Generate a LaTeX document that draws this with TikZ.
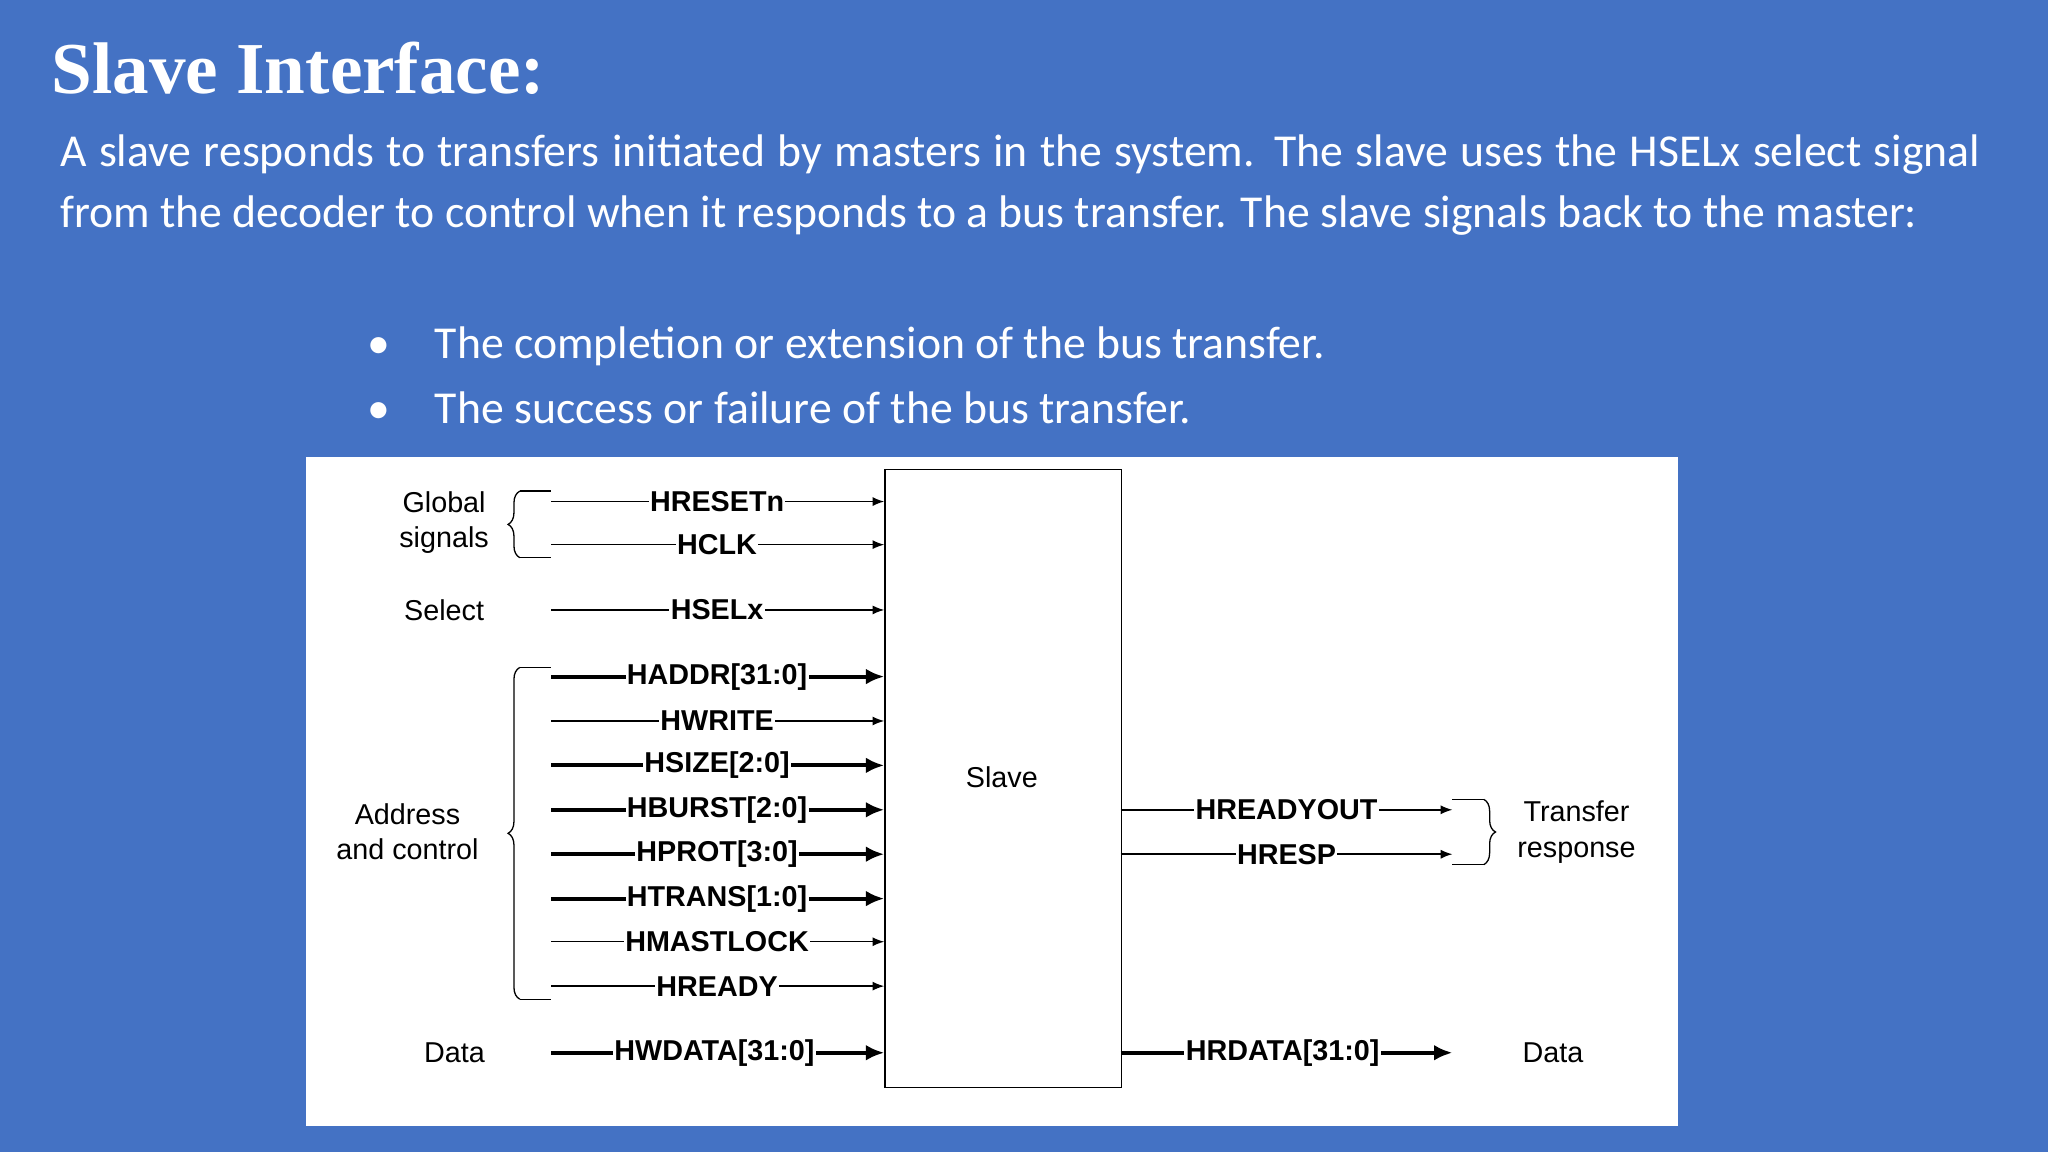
\documentclass[tikz,border=0pt]{standalone}
\usepackage{fontspec}
\setmainfont{Carlito}
\newfontfamily\titlefont{Liberation Serif}
\newfontfamily\diag{Liberation Sans}
\usetikzlibrary{arrows.meta,decorations.pathreplacing}
\definecolor{bg}{HTML}{4472C4}
\tikzset{
 thin sig/.style={line width=1.1pt,-{Latex[length=9pt,width=7pt]}},
 thick sig/.style={line width=3pt,-{Latex[length=14pt,width=12pt]}},
 sig lbl/.style={fill=white,inner sep=1pt,font=\diag\bfseries\fontsize{22}{24}\selectfont},
 side lbl/.style={font=\diag\fontsize{22}{27}\selectfont,align=center},
 brc/.style={decorate,decoration={brace,amplitude=9pt},line width=1pt}
}
\begin{document}
\begin{tikzpicture}[x=1pt,y=-1pt]
\fill[bg] (0,0) rectangle (1568,882);
\useasboundingbox (0,0) rectangle (1568,882);
\node[anchor=west,text=white,font=\titlefont\bfseries\fontsize{56}{60}\selectfont] (title) at (36,52) {Slave Interface:};
\node[anchor=north west,text=white,text width=1470pt,align=justify,inner sep=0pt,font=\fontsize{35}{47}\selectfont] (body) at (46,103) {A slave responds to transfers initiated by masters in the system. The slave uses the HSELx select signal from the decoder to control when it responds to a bus transfer. The slave signals back to the master:};
\node[anchor=west,text=white,font=\fontsize{35}{40}\selectfont] (b1) at (278,265) {\textbullet\hspace{34pt}The completion or extension of the bus transfer.};
\node[anchor=west,text=white,font=\fontsize{35}{40}\selectfont] (b2) at (278,312) {\textbullet\hspace{34pt}The success or failure of the bus transfer.};
\fill[white] (234,350) rectangle (1285,862);
\node[draw,line width=1.2pt,minimum width=181pt,minimum height=473pt,anchor=north west,font=\diag\fontsize{22}{24}\selectfont] (slave) at (677,359) {};
\node[font=\diag\fontsize{22}{24}\selectfont] (slavelbl) at (767,595) {Slave};
% left signals
\foreach \y/\t/\s/\lx in {384/HRESETn/thin sig/549,417/HCLK/thin sig/549,467/HSELx/thin sig/549,518/HADDR[31:0]/thick sig/549,552/HWRITE/thin sig/549,586/HSIZE[2:0]/thick sig/549,620/HBURST[2:0]/thick sig/549,654/HPROT[3:0]/thick sig/549,688/HTRANS[1:0]/thick sig/549,721/HMASTLOCK/thin sig/549,755/HREADY/thin sig/549,806/HWDATA[31:0]/thick sig/547}{
 \coordinate (s\y) at (422,\y);
 \coordinate (e\y) at (677,\y);
 \draw[\s] (s\y) -- (e\y);
 \node[sig lbl] (l\y) at (\lx,\y) {\t};
}
% right signals
\foreach \y/\t/\s/\lx in {620/HREADYOUT/thin sig/985,654/HRESP/thin sig/985,806/HRDATA[31:0]/thick sig/982}{
 \coordinate (rs\y) at (858,\y);
 \coordinate (re\y) at (1112,\y);
 \draw[\s] (rs\y) -- (re\y);
 \node[sig lbl] (r\y) at (\lx,\y) {\t};
}
\node[side lbl] (glob) at (340,400) {Global\\signals};
\node[side lbl] (sel) at (340,467) {Select};
\node[side lbl] (addr) at (312,637) {Address\\and control};
\node[side lbl] (dl) at (348,806) {Data};
\node[side lbl] (tr) at (1207,637) {Transfer\\response};
\node[side lbl] (dr) at (1189,806) {Data};
\coordinate (g1) at (398,376); \coordinate (g2) at (398,427);
\draw[brc] (g2) -- (g1);
\draw[line width=1pt] (g1) -- (422,376) (g2) -- (422,427);
\coordinate (a1) at (398,511); \coordinate (a2) at (398,765);
\draw[brc] (a2) -- (a1);
\draw[line width=1pt] (a1) -- (422,511) (a2) -- (422,765);
\coordinate (t1) at (1136,612); \coordinate (t2) at (1136,662);
\draw[brc] (t1) -- (t2);
\draw[line width=1pt] (t1) -- (1112,612) (t2) -- (1112,662);
\end{tikzpicture}
\end{document}
